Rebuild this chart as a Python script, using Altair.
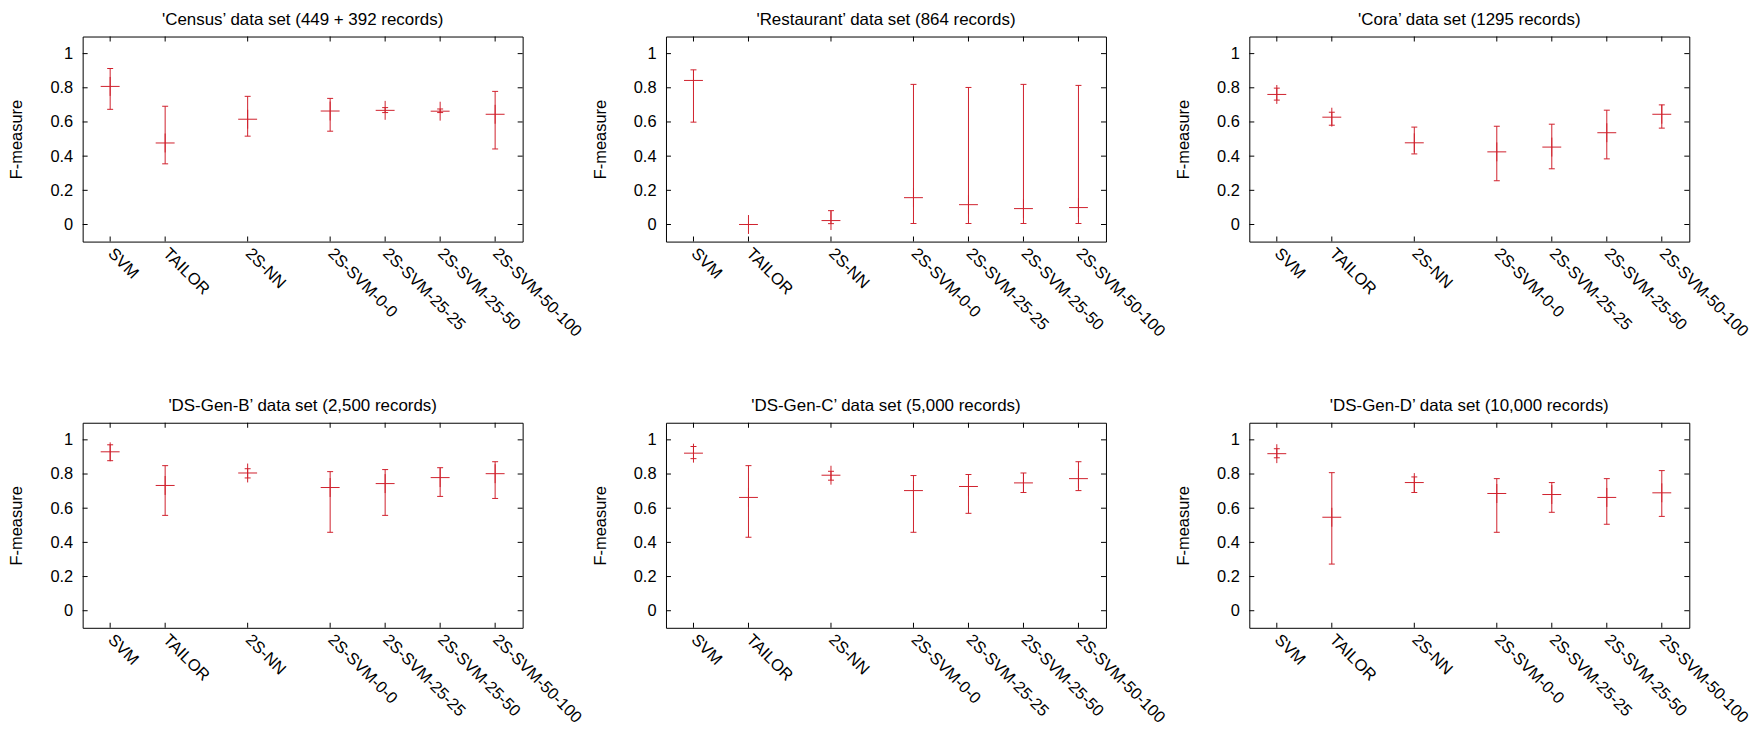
import altair as alt
import pandas as pd

FONT = "Liberation Sans"
RED = "#d0202c"
FS_AXIS = 16.5
FS_TITLE = 17

names = ["SVM", "TAILOR", "2S-NN", "2S-SVM-0-0", "2S-SVM-25-25", "2S-SVM-25-50", "2S-SVM-50-100"]
positions = [0.5, 1.5, 3, 4.5, 5.5, 6.5, 7.5]
y_ticks = [0, 0.2, 0.4, 0.6, 0.8, 1]

titles = [
    "'Census\u2019 data set (449 + 392 records)",
    "'Restaurant\u2019 data set (864 records)",
    "'Cora\u2019 data set (1295 records)",
    "'DS-Gen-B\u2019 data set (2,500 records)",
    "'DS-Gen-C\u2019 data set (5,000 records)",
    "'DS-Gen-D\u2019 data set (10,000 records)",
]

census_mean = [0.808, 0.477, 0.616, 0.664, 0.668, 0.663, 0.645]
census_low = [0.674, 0.355, 0.517, 0.546, 0.655, 0.655, 0.442]
census_high = [0.913, 0.692, 0.750, 0.738, 0.684, 0.676, 0.779]

restaurant_mean = [0.843, 0.0, 0.023, 0.157, 0.116, 0.093, 0.099]
restaurant_low = [0.599, 0.0, 0.005, 0.006, 0.006, 0.006, 0.006]
restaurant_high = [0.905, 0.0, 0.081, 0.820, 0.802, 0.820, 0.814]

cora_mean = [0.761, 0.628, 0.478, 0.425, 0.453, 0.537, 0.645]
cora_low = [0.728, 0.581, 0.413, 0.256, 0.326, 0.384, 0.564]
cora_high = [0.798, 0.657, 0.570, 0.575, 0.587, 0.669, 0.700]

genb_mean = [0.930, 0.733, 0.806, 0.721, 0.744, 0.779, 0.802]
genb_low = [0.878, 0.558, 0.777, 0.459, 0.558, 0.669, 0.657]
genb_high = [0.971, 0.849, 0.831, 0.814, 0.826, 0.837, 0.872]

genc_mean = [0.922, 0.663, 0.793, 0.703, 0.727, 0.748, 0.773]
genc_low = [0.890, 0.430, 0.764, 0.459, 0.570, 0.692, 0.703]
genc_high = [0.961, 0.849, 0.816, 0.791, 0.797, 0.806, 0.872]

gend_mean = [0.919, 0.547, 0.750, 0.686, 0.680, 0.663, 0.690]
gend_low = [0.895, 0.273, 0.692, 0.459, 0.576, 0.506, 0.552]
gend_high = [0.948, 0.808, 0.783, 0.773, 0.750, 0.773, 0.820]

series = [
    (census_mean, census_low, census_high),
    (restaurant_mean, restaurant_low, restaurant_high),
    (cora_mean, cora_low, cora_high),
    (genb_mean, genb_low, genb_high),
    (genc_mean, genc_low, genc_high),
    (gend_mean, gend_low, gend_high),
]

label_expr = (
    "[" + ",".join("'" + n + "'" for n in names) + "]"
    + "[indexof([" + ",".join(str(p) for p in positions) + "], datum.value)]"
)

PW, PH = 442, 206


def panel(title, mean, low, high):
    df = pd.DataFrame({"pos": positions, "name": names, "mean": mean, "low": low, "high": high})
    xt = pd.DataFrame({"v": positions})
    yt = pd.DataFrame({"v": y_ticks})
    xscale = alt.Scale(domain=[0, 8], nice=False, zero=False)
    yscale = alt.Scale(domain=[-0.1, 1.1], nice=False, zero=False)
    xaxis = alt.Axis(
        values=positions, labelExpr=label_expr, labelAngle=45, labelAlign="left",
        labelBaseline="middle", labelPadding=9, ticks=False, tickSize=0, domain=False,
        grid=False, title=None, labelOverlap=False, labelFlush=False, labelBound=False,
        labelFont=FONT, labelFontSize=FS_AXIS, labelColor="black",
    )
    yaxis = alt.Axis(
        values=y_ticks, format="~g", ticks=False, tickSize=0, domain=False, grid=False,
        title="F-measure", titlePadding=25, labelPadding=10, labelFlush=False,
        labelOverlap=False, labelFont=FONT, labelFontSize=FS_AXIS, labelColor="black",
        titleFont=FONT, titleFontSize=FS_AXIS, titleFontWeight="normal", titleColor="black",
    )
    base = alt.Chart(df)
    bars = base.mark_rule(color=RED, strokeWidth=1).encode(
        x=alt.X("pos:Q", scale=xscale, axis=xaxis),
        y=alt.Y("low:Q", scale=yscale, axis=yaxis),
        y2="high:Q",
    )
    cap_low = base.mark_tick(orient="horizontal", size=6, thickness=1, color=RED, opacity=1).encode(
        x="pos:Q", y="low:Q"
    )
    cap_high = base.mark_tick(orient="horizontal", size=6, thickness=1, color=RED, opacity=1).encode(
        x="pos:Q", y="high:Q"
    )
    plus = base.mark_point(
        shape="M-1,0H1M0,-1V1", size=361, filled=False, strokeWidth=1, color=RED, opacity=1
    ).encode(x="pos:Q", y="mean:Q")
    tb = alt.Chart(xt).mark_tick(orient="vertical", size=5, thickness=1, color="black", yOffset=-2.5, opacity=1).encode(
        x="v:Q", y=alt.datum(-0.1)
    )
    tt = alt.Chart(xt).mark_tick(orient="vertical", size=5, thickness=1, color="black", yOffset=2.5, opacity=1).encode(
        x="v:Q", y=alt.datum(1.1)
    )
    tl = alt.Chart(yt).mark_tick(orient="horizontal", size=5, thickness=1, color="black", xOffset=2.5, opacity=1).encode(
        x=alt.datum(0), y="v:Q"
    )
    tr = alt.Chart(yt).mark_tick(orient="horizontal", size=5, thickness=1, color="black", xOffset=-2.5, opacity=1).encode(
        x=alt.datum(8), y="v:Q"
    )
    return alt.layer(bars, cap_low, cap_high, plus, tb, tt, tl, tr).properties(
        width=PW, height=PH,
        title=alt.TitleParams(title, fontSize=FS_TITLE, fontWeight="normal", font=FONT,
                              color="black", anchor="middle", offset=8),
    )


panels = [panel(t, *s) for t, s in zip(titles, series)]

chart = alt.concat(
    *panels, columns=3, spacing={"row": 182, "column": 144}, bounds="flush"
).properties(
    padding={"left": 0, "top": 0, "right": 0, "bottom": 0},
    background="white",
).configure_view(
    stroke="black", strokeWidth=1
)

chart.save("out.html", embed_options={"renderer": "svg", "actions": False})
